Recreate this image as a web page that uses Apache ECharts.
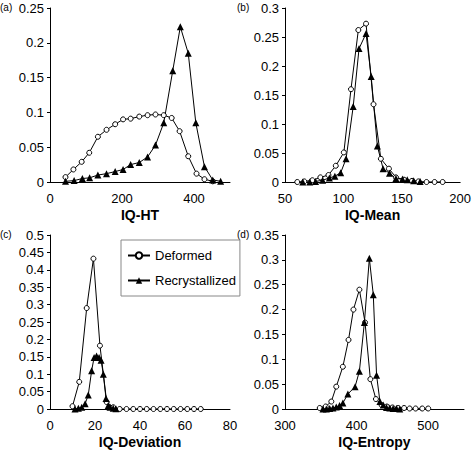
<!DOCTYPE html>
<html><head><meta charset="utf-8">
<script src="https://cdn.jsdelivr.net/npm/echarts@6/dist/echarts.min.js"></script>
<style>html,body{margin:0;padding:0;background:#fff}#c{width:474px;height:453px}</style>
</head><body><div id="c"></div>
<script>
// (a) IQ-HT
const htDefX = [43, 65, 88, 109, 133, 157, 181, 203, 224, 248, 271, 293, 316, 338, 360, 384, 407, 429, 452];
const htDefY = [0.007, 0.018, 0.029, 0.042, 0.065, 0.075, 0.083, 0.09, 0.091, 0.094, 0.096, 0.097, 0.096, 0.092, 0.073, 0.037, 0.012, 0.004, 0.001];
const htRecX = [43, 67, 90, 110, 133, 157, 181, 203, 224, 248, 271, 293, 316, 341, 362, 384, 405, 429, 452, 474];
const htRecY = [0.001, 0.002, 0.005, 0.006, 0.01, 0.012, 0.015, 0.018, 0.025, 0.028, 0.036, 0.053, 0.085, 0.16, 0.223, 0.185, 0.085, 0.022, 0.003, 0.001];
// (b) IQ-Mean
const meanDefX = [60.5, 66.5, 73.4, 80.3, 87.2, 93.5, 100.4, 106.5, 112.8, 119.4, 125.8, 132.1, 139, 145, 151.9, 158.8, 164.3, 171.2, 178.1, 185];
const meanDefY = [0, 0.001, 0.003, 0.008, 0.012, 0.028, 0.051, 0.16, 0.262, 0.273, 0.134, 0.04, 0.023, 0.008, 0.004, 0.002, 0.001, 0, 0, 0];
const meanRecX = [65.2, 71.2, 76.2, 82.2, 88, 92.7, 97.7, 102.3, 108.4, 113.4, 119.4, 123.8, 129.1, 134, 139.5, 145, 150.6, 154.7, 160.2, 165.7];
const meanRecY = [0, 0, 0.001, 0.003, 0.007, 0.01, 0.016, 0.04, 0.13, 0.23, 0.256, 0.182, 0.062, 0.023, 0.015, 0.006, 0.005, 0.004, 0.002, 0.001];
// (c) IQ-Deviation
const devDefX = [10, 13, 16.3, 19.3, 22.2, 25.2, 28.1, 31, 34, 37, 40, 43, 46, 49, 52, 55, 58, 61, 64, 67];
const devDefY = [0.008, 0.078, 0.29, 0.432, 0.182, 0.02, 0.005, 0, 0, 0, 0, 0, 0, 0, 0, 0, 0, 0, 0, 0];
const devRecX = [11.1, 12.6, 14.1, 15.6, 17, 18.5, 19.6, 20.7, 21.8, 22.7, 23.7, 24.9, 25.9, 26.7, 28.1, 29.3];
const devRecY = [0, 0.002, 0.005, 0.015, 0.04, 0.11, 0.148, 0.152, 0.148, 0.14, 0.1, 0.03, 0.01, 0.005, 0.002, 0.001];
// (d) IQ-Entropy
const entDefX = [348.5, 356.8, 364.7, 371.6, 380.8, 388.7, 395.6, 403.9, 411.8, 419.2, 427, 434.9, 442.3, 450.1, 458, 466.3, 474.1, 482.4, 491.7, 500];
const entDefY = [0.002, 0.005, 0.015, 0.045, 0.085, 0.139, 0.2, 0.24, 0.174, 0.06, 0.02, 0.008, 0.005, 0.003, 0.002, 0.002, 0.001, 0.001, 0.001, 0.001];
const entRecX = [353.1, 357.7, 362.4, 367, 371.6, 376.2, 380.8, 387.8, 397.9, 403.9, 410.9, 417.8, 423.3, 427.9, 432.6, 437.2, 441.8, 446.4, 451, 455.7, 460.3];
const entRecY = [0, 0, 0.001, 0.002, 0.004, 0.007, 0.012, 0.03, 0.045, 0.076, 0.174, 0.303, 0.23, 0.068, 0.015, 0.008, 0.003, 0.002, 0.001, 0.001, 0];

const panelNames = ['IQ-HT', 'IQ-Mean', 'IQ-Deviation', 'IQ-Entropy'];
const panelTags = ['(a)', '(b)', '(c)', '(d)'];

const zip = (xs, ys) => xs.map((x, i) => [x, ys[i]]);
const font = 'Liberation Sans';
const grids = [
  {left: 50, top: 8, width: 180, height: 174},
  {left: 285, top: 8, width: 182, height: 174},
  {left: 50, top: 235, width: 180, height: 174},
  {left: 285, top: 235, width: 179, height: 174}
];
const xr = [[0, 500, 200], [50, 200, 50], [0, 80, 20], [300, 550, 100]];
const yr = [[0.25, 0.05], [0.3, 0.05], [0.5, 0.05], [0.35, 0.05]];
const axLine = {lineStyle: {color: '#000', width: 1}};

const xAxis = xr.map((r, i) => ({
  type: 'value', gridIndex: i, min: r[0], max: r[1], interval: r[2],
  name: panelNames[i], nameLocation: 'middle', nameGap: 26,
  nameTextStyle: {fontFamily: font, fontSize: 14, fontWeight: 'bold', color: '#000'},
  axisLine: axLine, axisTick: {show: false}, splitLine: {show: false},
  axisLabel: {fontFamily: font, fontSize: 13, color: '#000', showMaxLabel: i === 1 || i === 2, margin: 10}
}));
const yAxis = yr.map((r, i) => ({
  type: 'value', gridIndex: i, min: 0, max: r[0], interval: r[1],
  axisLine: {show: true, lineStyle: {color: '#000', width: 1}},
  axisTick: {show: true, length: 3, lineStyle: {color: '#000'}}, splitLine: {show: false},
  axisLabel: {fontFamily: font, fontSize: 13, color: '#000', margin: 6}
}));

const defs = [zip(htDefX, htDefY), zip(meanDefX, meanDefY), zip(devDefX, devDefY), zip(entDefX, entDefY)];
const recs = [zip(htRecX, htRecY), zip(meanRecX, meanRecY), zip(devRecX, devRecY), zip(entRecX, entRecY)];
const series = [];
for (let i = 0; i < 4; i++) {
  series.push({
    name: 'Deformed', type: 'line', xAxisIndex: i, yAxisIndex: i, data: defs[i],
    symbol: 'circle', symbolSize: 5, lineStyle: {color: '#000', width: 1},
    itemStyle: {color: '#fff', borderColor: '#000', borderWidth: 1}, animation: false
  });
  series.push({
    name: 'Recrystallized', type: 'line', xAxisIndex: i, yAxisIndex: i, data: recs[i],
    symbol: 'triangle', symbolSize: 7, lineStyle: {color: '#000', width: 1},
    itemStyle: {color: '#000'}, animation: false
  });
}

const chart = echarts.init(document.getElementById('c'), null, {renderer: 'svg'});
chart.setOption({
  animation: false,
  grid: grids,
  xAxis, yAxis, series,
  legend: {
    data: ['Deformed', 'Recrystallized'], orient: 'vertical', left: 121, top: 240,
    borderColor: '#888', borderWidth: 1, padding: [9, 4, 9, 6], itemGap: 12,
    itemWidth: 22, itemHeight: 8,
    textStyle: {fontFamily: font, fontSize: 13, color: '#000'}
  },
  graphic: panelTags.map((t, i) => ({
    type: 'text', left: i % 2 ? 237 : 0, top: i < 2 ? 2 : 229,
    style: {text: t, fontFamily: font, fontSize: 10, fill: '#000'}
  }))
});
</script></body></html>
